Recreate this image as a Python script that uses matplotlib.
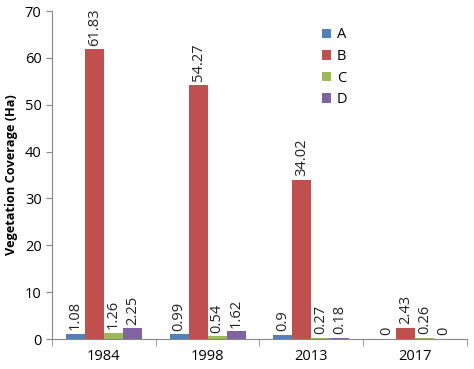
import matplotlib
matplotlib.use('Agg')
import matplotlib.pyplot as plt
import numpy

years = ['1984', '1998', '2013', '2017']
series_names = ['A', 'B', 'C', 'D']
vals_A = [1.08, 0.99, 0.9, 0]
vals_B = [61.83, 54.27, 34.02, 2.43]
vals_C = [1.26, 0.54, 0.27, 0.26]
vals_D = [2.25, 1.62, 0.18, 0]
colors = ['#4F81BD', '#C0504D', '#9BBB59', '#8064A2']

plt.rcParams['font.family'] = ['Open Sans', 'DejaVu Sans']

fig = plt.figure(figsize=(4.74, 3.69), dpi=100)
ax = fig.add_axes([0.1097, 0.0813, 0.8753, 0.8887])

x = numpy.arange(len(years))
width = 0.183
all_vals = [vals_A, vals_B, vals_C, vals_D]
for i, vals in enumerate(all_vals):
  offs = (i - 1.5) * width
  ax.bar(x + offs, vals, width, color=colors[i], label=series_names[i])
  for xb, v in zip(x + offs, vals):
    ax.text(xb, v + 0.8, '{:g}'.format(v), rotation=90, ha='center', va='bottom',
            fontsize=10.5, color='#222222')

ax.set_xlim(-0.5, 3.5)
ax.set_ylim(0, 70)
ax.set_yticks(range(0, 71, 10))
ax.set_xticks(x)
ax.set_xticklabels(years, fontsize=10.5)
ax.set_xticks(numpy.arange(-0.5, 4.0, 1.0), minor=True)
ax.tick_params(axis='x', which='major', length=0, pad=7)
ax.tick_params(axis='x', which='minor', length=5, color='#888888', direction='out')
ax.tick_params(axis='y', length=4, color='#888888', labelsize=10.5)

for s in ['top', 'right']:
  ax.spines[s].set_visible(False)
ax.spines['left'].set_color('#888888')
ax.spines['bottom'].set_color('#888888')

ax.set_ylabel('Vegetation Coverage (Ha)', fontsize=9.2, fontweight='bold', labelpad=5)

ax.legend(loc='upper left', bbox_to_anchor=(0.62, 0.99), frameon=False,
          fontsize=10.5, handlelength=0.6, handleheight=0.6, handletextpad=0.4,
          labelspacing=0.45)

plt.savefig('out.png', dpi=100)
